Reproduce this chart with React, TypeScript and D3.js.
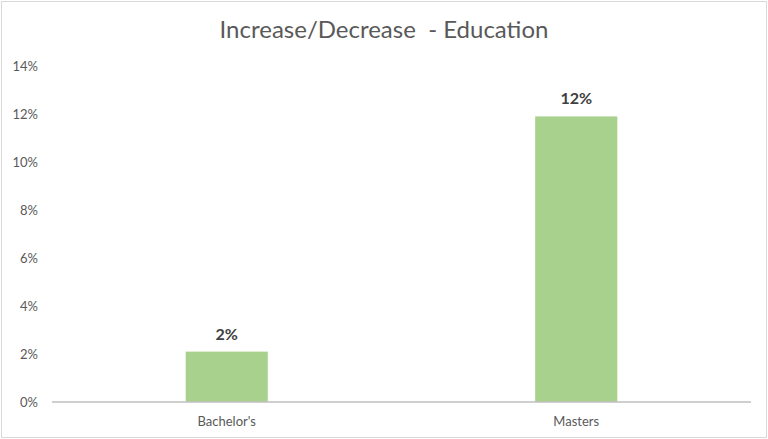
import React from "react";
import * as d3 from "d3";

const categories = ["Bachelor's", "Masters"];
const values = [0.021, 0.119];
const labels = ["2%", "12%"];
const ticks = [0, 0.02, 0.04, 0.06, 0.08, 0.1, 0.12, 0.14];

export default function App() {
  const W = 768, H = 439;
  const m = { left: 52, right: 17, top: 66, bottom: 37 };
  const x = d3.scaleBand().domain(categories).range([m.left, W - m.right]).paddingInner(0.765).paddingOuter(0.3825);
  const y = d3.scaleLinear().domain([0, 0.14]).range([H - m.bottom, m.top]);
  const fmt = d3.format(".0%");
  const font = "Lato, 'Open Sans', sans-serif";
  return (
    <div style={{ position: "fixed", left: 0, top: 0 }}>
      <svg width={W} height={H} style={{ display: "block", fontFamily: font }}>
        <rect x={1.5} y={1.5} width={W - 3} height={H - 3} fill="#fff" stroke="#d9d9d9" />
        <text x={W / 2} y={38} textAnchor="middle" fontSize={24} fill="#595959" style={{ whiteSpace: "pre" }}>Increase/Decrease  - Education</text>
        {ticks.map((t) => (
          <text key={t} x={38} y={y(t)} dy="0.35em" textAnchor="end" fontSize={13} fill="#595959">{fmt(t)}</text>
        ))}
        {categories.map((c, i) => (
          <g key={c}>
            <rect x={x(c)} y={y(values[i])} width={x.bandwidth()} height={y(0) - y(values[i])} fill="#a9d18e" />
            <text x={(x(c) as number) + x.bandwidth() / 2} y={y(values[i]) - 12} textAnchor="middle" fontSize={16} fontWeight="bold" fill="#404040">{labels[i]}</text>
            <text x={(x(c) as number) + x.bandwidth() / 2} y={y(0) + 24} textAnchor="middle" fontSize={13} fill="#595959">{c}</text>
          </g>
        ))}
        <line x1={m.left} x2={W - m.right} y1={y(0)} y2={y(0)} stroke="#bfbfbf" strokeWidth={1.5} />
      </svg>
    </div>
  );
}
